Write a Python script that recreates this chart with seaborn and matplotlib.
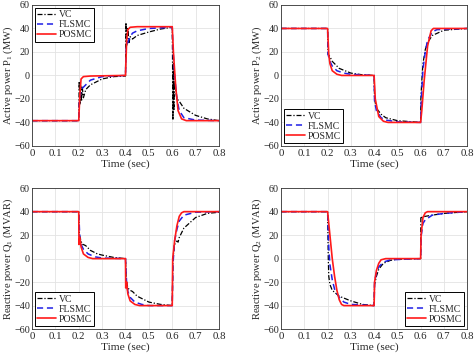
import matplotlib
matplotlib.use("Agg")
import matplotlib.pyplot as plt
import seaborn as sns
import pandas as pd

# ---------------- data ----------------
# Panel 1: Active power P1 (MW)
p1_vc_t = [0, 0.2, 0.202, 0.205, 0.208, 0.212, 0.215, 0.22, 0.23, 0.25, 0.3, 0.35, 0.4,
           0.402, 0.405, 0.41, 0.415, 0.42, 0.43, 0.45, 0.5, 0.55, 0.6,
           0.601, 0.603, 0.605, 0.607, 0.61, 0.62, 0.63, 0.65, 0.7, 0.75, 0.8]
p1_vc_v = [-38.5, -38.5, -5, -25, -8, -22, -10, -19, -12, -8, -3, -1, -0.5,
           45, 25, 40, 28, 33, 31, 34, 37, 39.5, 41,
           20, -38, 10, -30, -5, -20, -22, -28, -34, -37, -38.5]
p1_fl_t = [0, 0.2, 0.203, 0.21, 0.23, 0.25, 0.3, 0.4,
           0.403, 0.42, 0.43, 0.45, 0.5, 0.6,
           0.604, 0.61, 0.62, 0.63, 0.65, 0.7, 0.8]
p1_fl_v = [-38.5, -38.5, -20, -12, -8, -4, -1, 0,
           25, 33, 36, 38, 40, 41,
           20, 0, -20, -30, -36, -38, -38.5]
p1_po_t = [0, 0.2, 0.205, 0.21, 0.22, 0.25, 0.4,
           0.405, 0.41, 0.42, 0.45, 0.6,
           0.605, 0.615, 0.625, 0.64, 0.66, 0.8]
p1_po_v = [-38.5, -38.5, -15, -3, -1, -0.5, 0,
           30, 39, 41, 41.5, 41.5,
           20, -10, -30, -37, -38.5, -38.5]

# Panel 2: Active power P2 (MW)
p2_vc_t = [0, 0.2, 0.202, 0.21, 0.22, 0.25, 0.3, 0.35, 0.4,
           0.402, 0.41, 0.43, 0.45, 0.5, 0.6,
           0.601, 0.605, 0.61, 0.62, 0.63, 0.65, 0.7, 0.8]
p2_vc_v = [40, 40, 18, 16, 12, 6, 2, 0.5, 0,
           -20, -28, -33, -36, -38.5, -40,
           -20, -5, 10, 22, 28, 34, 38.5, 40]
p2_fl_t = [0, 0.2, 0.202, 0.21, 0.22, 0.24, 0.27, 0.3, 0.4,
           0.402, 0.41, 0.43, 0.45, 0.5, 0.6,
           0.603, 0.61, 0.62, 0.63, 0.65, 0.67, 0.8]
p2_fl_v = [40, 40, 18, 12, 8, 4, 2, 1, 0,
           -22, -30, -36, -38, -39.5, -40,
           -20, 5, 20, 30, 37, 39, 40]
p2_po_t = [0, 0.2, 0.205, 0.21, 0.22, 0.24, 0.26, 0.4,
           0.405, 0.42, 0.44, 0.46, 0.6,
           0.605, 0.615, 0.63, 0.645, 0.655, 0.8]
p2_po_v = [40, 40, 18, 10, 4, 1, 0, 0,
           -20, -35, -39, -40, -40,
           -30, -5, 25, 38, 40, 40]

# Panel 3: Reactive power Q1 (MVAR)
q1_vc_t = [0, 0.2, 0.203, 0.21, 0.215, 0.22, 0.23, 0.25, 0.28, 0.3, 0.35, 0.4,
           0.403, 0.41, 0.42, 0.43, 0.45, 0.5, 0.55, 0.6,
           0.603, 0.61, 0.62, 0.625, 0.63, 0.65, 0.7, 0.75, 0.8]
q1_vc_v = [40, 40, 20, 15, 12, 12, 11, 7, 4, 3, 1, 0,
           -18, -25, -27, -28, -32, -37, -39, -40,
           0, 12, 15, 14, 18, 26, 35, 38.5, 39.5]
q1_fl_t = [0, 0.2, 0.205, 0.21, 0.22, 0.24, 0.27, 0.3, 0.4,
           0.405, 0.41, 0.42, 0.44, 0.47, 0.5, 0.6,
           0.603, 0.61, 0.62, 0.63, 0.65, 0.7, 0.8]
q1_fl_v = [40, 40, 15, 12, 8, 4, 1.5, 0.5, 0,
           -22, -28, -33, -37, -39, -40, -40,
           -5, 15, 25, 32, 37, 39.5, 40]
q1_po_t = [0, 0.2, 0.201, 0.205, 0.21, 0.22, 0.24, 0.26, 0.4,
           0.401, 0.405, 0.41, 0.42, 0.44, 0.46, 0.6,
           0.602, 0.61, 0.62, 0.63, 0.64, 0.65, 0.8]
q1_po_v = [40, 40, 12, 18, 10, 4, 1, 0, 0,
           -25, -20, -30, -36, -39, -40, -40,
           0, 15, 28, 36, 39, 40, 40]

# Panel 4: Reactive power Q2 (MVAR)
q2_vc_t = [0, 0.2, 0.203, 0.205, 0.21, 0.22, 0.25, 0.3, 0.35, 0.4,
           0.402, 0.41, 0.42, 0.44, 0.47, 0.5, 0.6,
           0.601, 0.605, 0.62, 0.65, 0.7, 0.8]
q2_vc_v = [40, 40, 0, -15, -22, -27, -32, -36, -39, -40,
           -22, -15, -9, -4, -1.5, -0.5, 0,
           36, 35, 36, 37, 38.5, 40]
q2_fl_t = [0, 0.2, 0.205, 0.21, 0.22, 0.23, 0.25, 0.27, 0.3, 0.4,
           0.402, 0.41, 0.42, 0.44, 0.47, 0.6,
           0.603, 0.61, 0.62, 0.65, 0.7, 0.8]
q2_fl_v = [40, 40, 10, -5, -18, -26, -33, -37, -39, -40,
           -20, -12, -7, -3, -1, 0,
           20, 30, 33, 37, 38.5, 40]
q2_po_t = [0, 0.2, 0.21, 0.22, 0.23, 0.24, 0.25, 0.26, 0.27, 0.4,
           0.402, 0.41, 0.42, 0.43, 0.45, 0.6,
           0.602, 0.61, 0.62, 0.63, 0.8]
q2_po_v = [40, 40, 20, 0, -15, -27, -35, -39, -40, -40,
           -20, -10, -4, -1, 0, 0,
           20, 35, 39, 40, 40]

series_names = ["VC", "FLSMC", "POSMC"]
ylabels = ["Active power P$_\\mathregular{1}$ (MW)",
           "Active power P$_\\mathregular{2}$ (MW)",
           "Reactive power Q$_\\mathregular{1}$ (MVAR)",
           "Reactive power Q$_\\mathregular{2}$ (MVAR)"]
xlabel = "Time (sec)"
xticks = [0, 0.1, 0.2, 0.3, 0.4, 0.5, 0.6, 0.7, 0.8]
xticklabels = ["0", "0.1", "0.2", "0.3", "0.4", "0.5", "0.6", "0.7", "0.8"]
yticks = [-60, -40, -20, 0, 20, 40, 60]

panels = [
    [(p1_vc_t, p1_vc_v), (p1_fl_t, p1_fl_v), (p1_po_t, p1_po_v)],
    [(p2_vc_t, p2_vc_v), (p2_fl_t, p2_fl_v), (p2_po_t, p2_po_v)],
    [(q1_vc_t, q1_vc_v), (q1_fl_t, q1_fl_v), (q1_po_t, q1_po_v)],
    [(q2_vc_t, q2_vc_v), (q2_fl_t, q2_fl_v), (q2_po_t, q2_po_v)],
]
legend_locs = ["upper left", "lower left", "lower left", "lower right"]

# ---------------- styling ----------------
sns.set_theme(style="whitegrid")
plt.rcParams["font.family"] = ["Liberation Serif", "DejaVu Serif"]
plt.rcParams["mathtext.fontset"] = "custom"
plt.rcParams["mathtext.rm"] = "Liberation Serif"
plt.rcParams["mathtext.it"] = "Liberation Serif:italic"

styles = [
    dict(color="black", linestyle=(0, (4, 1.5, 1, 1.5)), linewidth=0.9),
    dict(color="#1f1fe6", linestyle=(0, (4, 2.5)), linewidth=1.1),
    dict(color="#ff1a1a", linestyle="-", linewidth=1.2),
]

fig = plt.figure(figsize=(4.74, 3.55), dpi=100)
positions = [
    [0.0675, 0.589, 0.3945, 0.397],
    [0.593, 0.589, 0.3925, 0.397],
    [0.0675, 0.073, 0.3945, 0.397],
    [0.593, 0.073, 0.3925, 0.397],
]

for i, pos in enumerate(positions):
    ax = fig.add_axes(pos)
    for (t, v), name, st in zip(panels[i], series_names, styles):
        df = pd.DataFrame({"t": t, "v": v})
        sns.lineplot(data=df, x="t", y="v", ax=ax, estimator=None, sort=False,
                     label=name, **st)
    ax.set_xlim(0, 0.8)
    ax.set_ylim(-60, 60)
    ax.set_xticks(xticks)
    ax.set_xticklabels(xticklabels)
    ax.set_yticks(yticks)
    ax.set_xlabel(xlabel, fontsize=8.2, labelpad=1)
    ax.set_ylabel(ylabels[i], fontsize=7.6)
    ax.yaxis.set_label_coords(-0.09, 0.5)
    ax.tick_params(axis="both", labelsize=7.3, direction="in", length=2.5,
                   width=0.5, pad=1.5, color="#333333")
    ax.tick_params(axis="x", labelsize=7.8, pad=2)
    ax.grid(True, color="#e3e3e3", linewidth=0.6)
    ax.set_facecolor("white")
    for sp in ax.spines.values():
        sp.set_color("#333333")
        sp.set_linewidth(0.6)
    leg = ax.legend(loc=legend_locs[i], fontsize=7, frameon=True, fancybox=False,
                    borderpad=0.25, labelspacing=0.1, handlelength=1.9,
                    handletextpad=0.3, borderaxespad=0.3)
    leg.get_frame().set_edgecolor("black")
    leg.get_frame().set_linewidth(0.7)
    leg.get_frame().set_alpha(1)

fig.savefig("out.png", dpi=100)
